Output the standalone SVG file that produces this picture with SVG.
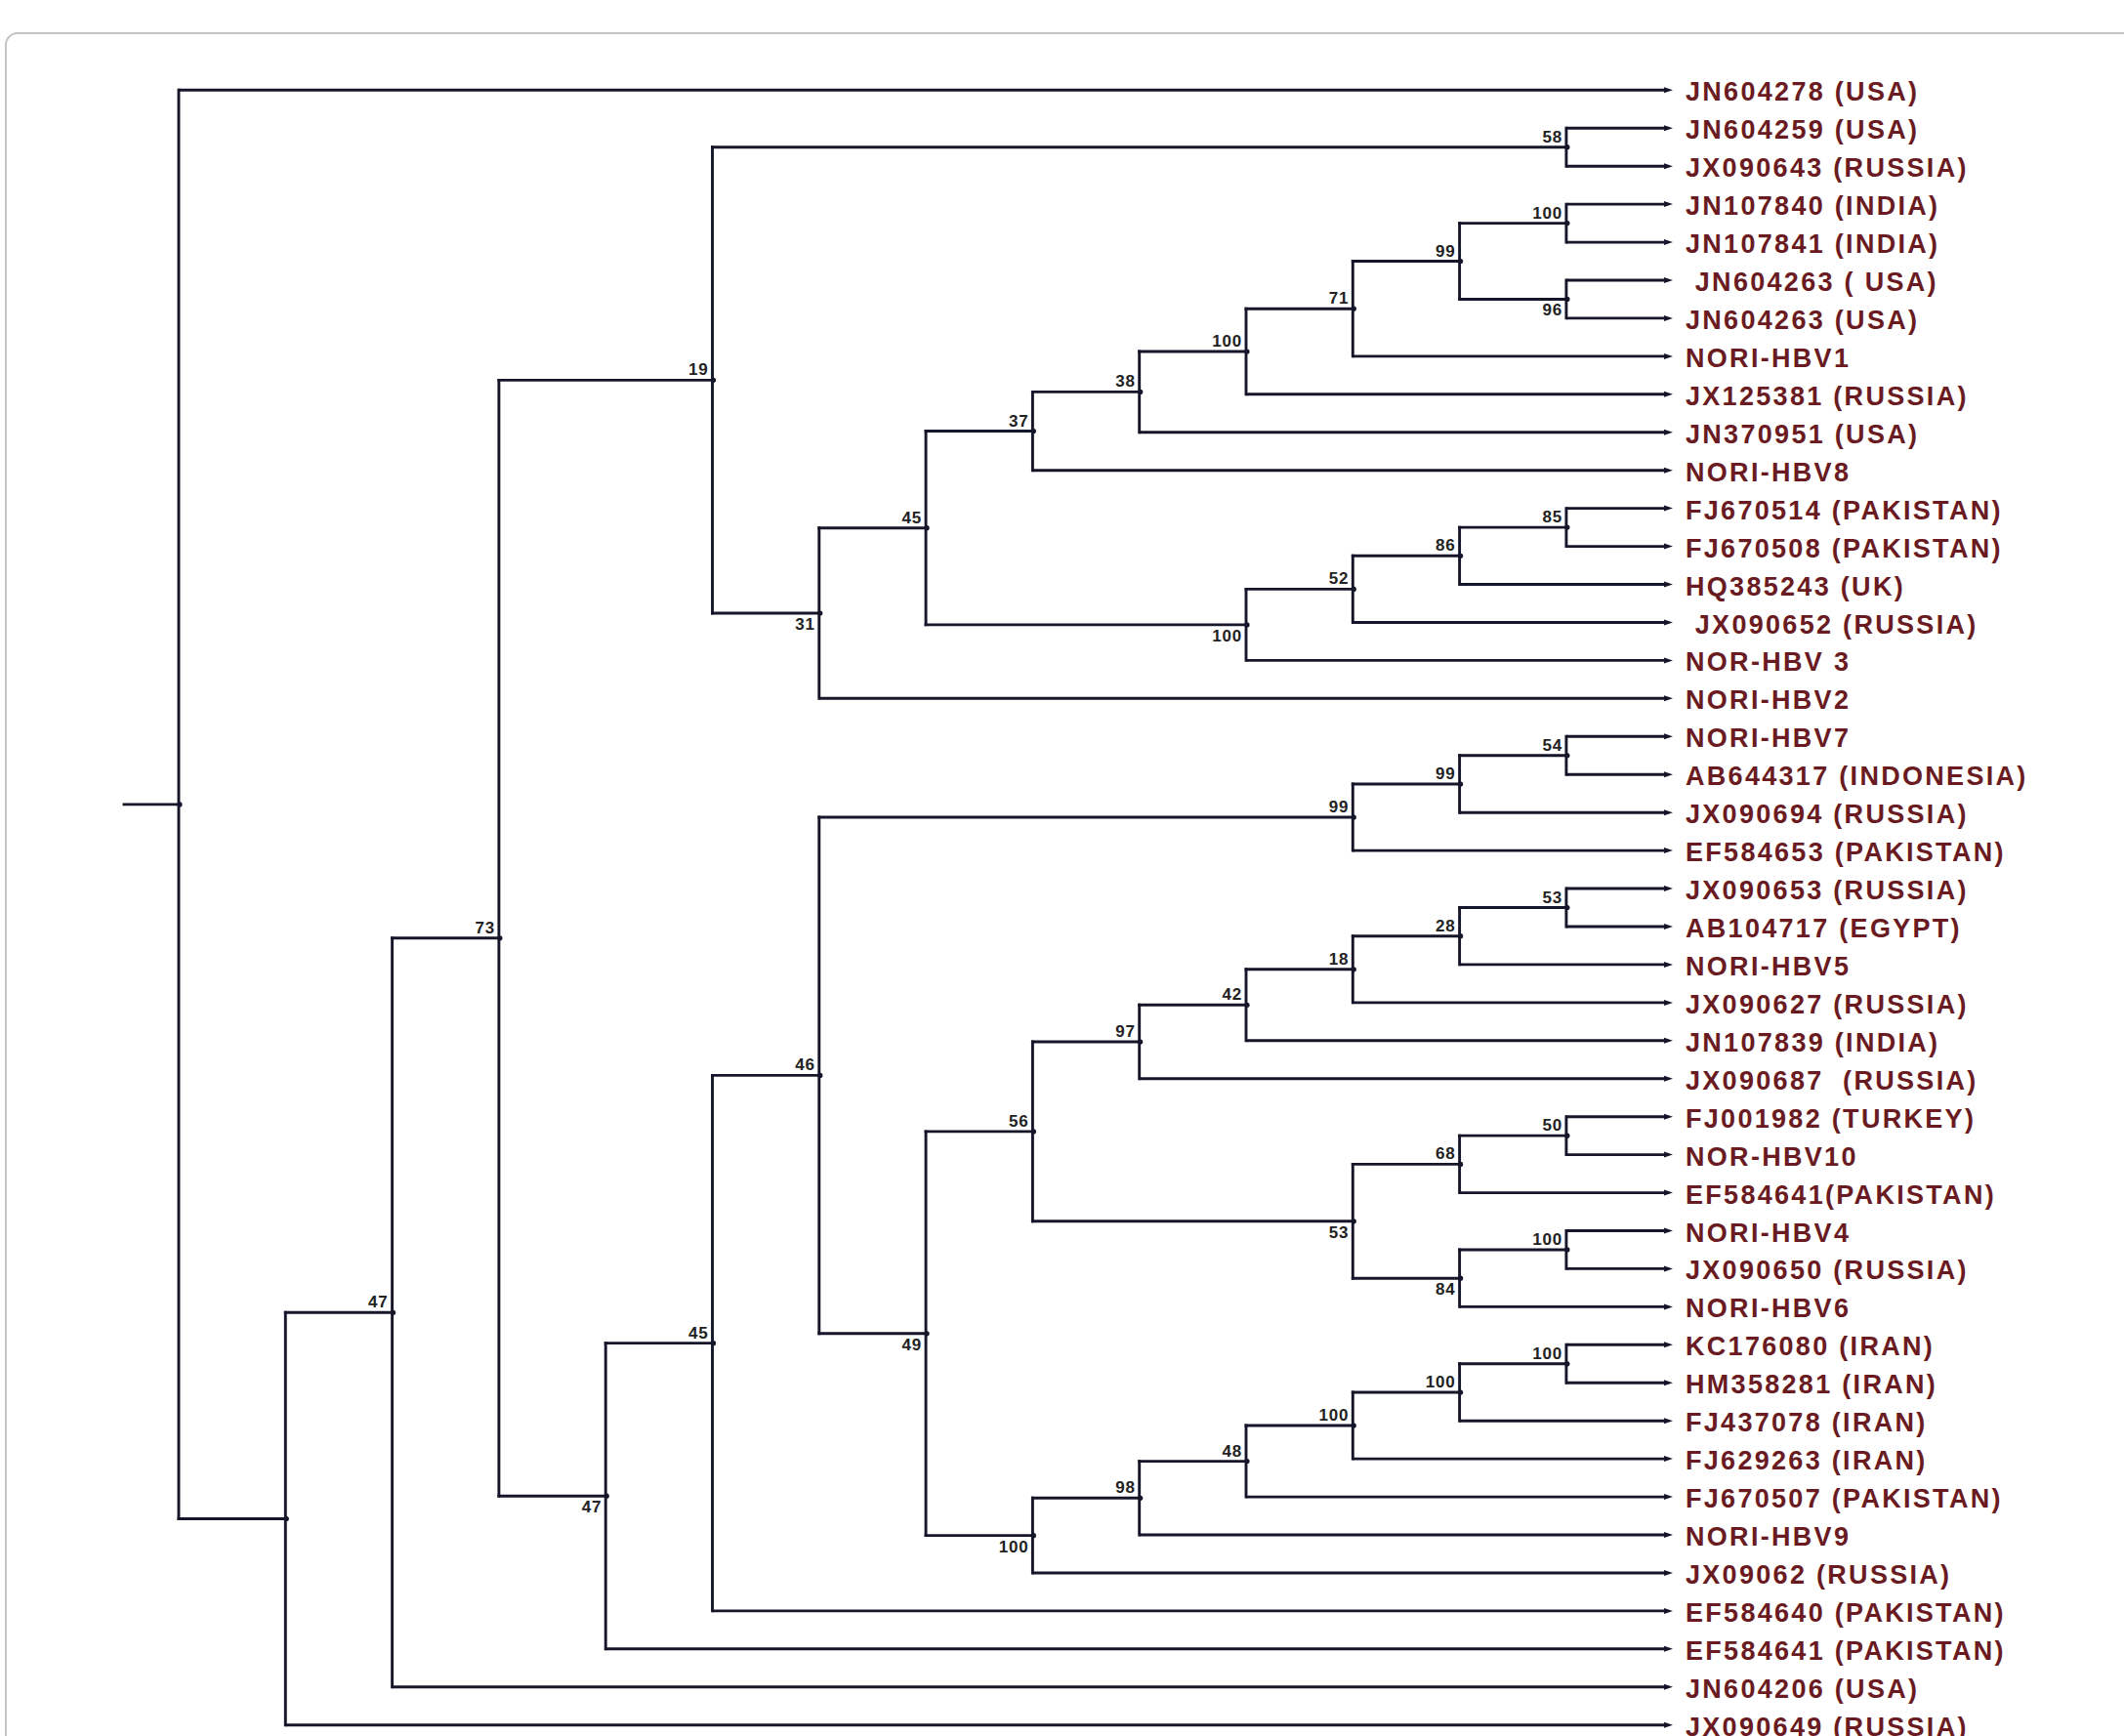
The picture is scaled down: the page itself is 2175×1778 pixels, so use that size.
<svg xmlns="http://www.w3.org/2000/svg" width="2175" height="1778" viewBox="0 0 2175 1778">
<style>
.br{stroke:#16162a;stroke-width:2.9;fill:none;stroke-linecap:square}
.lf{stroke:#16162a;stroke-width:2.9;fill:none}
.tx{font-family:"Liberation Sans",Arial,sans-serif;font-weight:bold;font-size:27px;letter-spacing:2.3px;fill:#6a1b22;white-space:pre}
.bs{font-family:"Liberation Sans",Arial,sans-serif;font-weight:bold;font-size:17px;letter-spacing:0.8px;fill:#222;text-anchor:end}
.nd{fill:#16162a}
</style>
<defs>
<marker id="arr" markerUnits="userSpaceOnUse" markerWidth="9" markerHeight="7" refX="1" refY="3.5" orient="auto"><path d="M0,0.5 L9,3.5 L0,6.5 z" fill="#16162a"/></marker>
</defs>
<rect x="6" y="34" width="2250" height="1800" rx="12" fill="#fff" stroke="#c4c4c4" stroke-width="2"/>
<g id="connectors">
<line class="br" x1="127" y1="823.9" x2="183" y2="823.9"/>
<g id="verticals">
<path class="br" d="M183 92.3V1555.5M292.3 1344.3V1766.7M401.6 960.8V1727.8M510.9 389.35V1532.2M620.2 1375.65V1688.8M729.5 150.7V628M838.8 540.7V715.3M948.1 441.55V639.9M1057.4 401.4V481.7M1166.7 360V442.8M1276 316.2V403.8M1385.3 267.5V364.9M1494.6 228.6V306.45M1603.9 209.1V248.1M1603.9 287V325.9M1603.9 131.2V170.2M1276 603.4V676.4M1385.3 569.3V637.5M1494.6 540.1V598.5M1603.9 520.6V559.6M729.5 1101.4V1649.9M838.8 837.05V1365.8M1385.3 803V871.1M1494.6 773.75V832.2M1603.9 754.3V793.2M948.1 1158.9V1572.65M1057.4 1067V1250.8M1166.7 1029.3V1104.7M1276 992.8V1065.8M1385.3 958.7V1026.9M1494.6 929.5V987.9M1603.9 910V949M1385.3 1192.4V1309.2M1494.6 1163.15V1221.6M1603.9 1143.7V1182.6M1494.6 1279.95V1338.4M1603.9 1260.5V1299.4M1057.4 1534.3V1611M1166.7 1496.6V1572M1276 1460.05V1533.1M1385.3 1426V1494.1M1494.6 1396.8V1455.2M1603.9 1377.3V1416.3"/>
</g>
<g id="inner-edges">
<path class="br" d="M183 1555.5H292.3M292.3 1344.3H401.6M401.6 960.8H510.9M510.9 389.35H729.5M510.9 1532.2H620.2M729.5 150.7H1603.9M729.5 628H838.8M838.8 540.7H948.1M948.1 441.55H1057.4M948.1 639.9H1276M1057.4 401.4H1166.7M1166.7 360H1276M1276 316.2H1385.3M1385.3 267.5H1494.6M1494.6 228.6H1603.9M1494.6 306.45H1603.9M1276 603.4H1385.3M1385.3 569.3H1494.6M1494.6 540.1H1603.9M620.2 1375.65H729.5M729.5 1101.4H838.8M838.8 837.05H1385.3M838.8 1365.8H948.1M1385.3 803H1494.6M1494.6 773.75H1603.9M948.1 1158.9H1057.4M948.1 1572.65H1057.4M1057.4 1067H1166.7M1057.4 1250.8H1385.3M1166.7 1029.3H1276M1276 992.8H1385.3M1385.3 958.7H1494.6M1494.6 929.5H1603.9M1385.3 1192.4H1494.6M1385.3 1309.2H1494.6M1494.6 1163.15H1603.9M1494.6 1279.95H1603.9M1057.4 1534.3H1166.7M1166.7 1496.6H1276M1276 1460.05H1385.3M1385.3 1426H1494.6M1494.6 1396.8H1603.9"/>
</g>
<g id="leaf-edges">
<line class="lf" x1="183" y1="92.3" x2="1705" y2="92.3" marker-end="url(#arr)"/>
<line class="lf" x1="1603.9" y1="131.2" x2="1705" y2="131.2" marker-end="url(#arr)"/>
<line class="lf" x1="1603.9" y1="170.2" x2="1705" y2="170.2" marker-end="url(#arr)"/>
<line class="lf" x1="1603.9" y1="209.1" x2="1705" y2="209.1" marker-end="url(#arr)"/>
<line class="lf" x1="1603.9" y1="248.1" x2="1705" y2="248.1" marker-end="url(#arr)"/>
<line class="lf" x1="1603.9" y1="287" x2="1705" y2="287" marker-end="url(#arr)"/>
<line class="lf" x1="1603.9" y1="325.9" x2="1705" y2="325.9" marker-end="url(#arr)"/>
<line class="lf" x1="1385.3" y1="364.9" x2="1705" y2="364.9" marker-end="url(#arr)"/>
<line class="lf" x1="1276" y1="403.8" x2="1705" y2="403.8" marker-end="url(#arr)"/>
<line class="lf" x1="1166.7" y1="442.8" x2="1705" y2="442.8" marker-end="url(#arr)"/>
<line class="lf" x1="1057.4" y1="481.7" x2="1705" y2="481.7" marker-end="url(#arr)"/>
<line class="lf" x1="1603.9" y1="520.6" x2="1705" y2="520.6" marker-end="url(#arr)"/>
<line class="lf" x1="1603.9" y1="559.6" x2="1705" y2="559.6" marker-end="url(#arr)"/>
<line class="lf" x1="1494.6" y1="598.5" x2="1705" y2="598.5" marker-end="url(#arr)"/>
<line class="lf" x1="1385.3" y1="637.5" x2="1705" y2="637.5" marker-end="url(#arr)"/>
<line class="lf" x1="1276" y1="676.4" x2="1705" y2="676.4" marker-end="url(#arr)"/>
<line class="lf" x1="838.8" y1="715.3" x2="1705" y2="715.3" marker-end="url(#arr)"/>
<line class="lf" x1="1603.9" y1="754.3" x2="1705" y2="754.3" marker-end="url(#arr)"/>
<line class="lf" x1="1603.9" y1="793.2" x2="1705" y2="793.2" marker-end="url(#arr)"/>
<line class="lf" x1="1494.6" y1="832.2" x2="1705" y2="832.2" marker-end="url(#arr)"/>
<line class="lf" x1="1385.3" y1="871.1" x2="1705" y2="871.1" marker-end="url(#arr)"/>
<line class="lf" x1="1603.9" y1="910" x2="1705" y2="910" marker-end="url(#arr)"/>
<line class="lf" x1="1603.9" y1="949" x2="1705" y2="949" marker-end="url(#arr)"/>
<line class="lf" x1="1494.6" y1="987.9" x2="1705" y2="987.9" marker-end="url(#arr)"/>
<line class="lf" x1="1385.3" y1="1026.9" x2="1705" y2="1026.9" marker-end="url(#arr)"/>
<line class="lf" x1="1276" y1="1065.8" x2="1705" y2="1065.8" marker-end="url(#arr)"/>
<line class="lf" x1="1166.7" y1="1104.7" x2="1705" y2="1104.7" marker-end="url(#arr)"/>
<line class="lf" x1="1603.9" y1="1143.7" x2="1705" y2="1143.7" marker-end="url(#arr)"/>
<line class="lf" x1="1603.9" y1="1182.6" x2="1705" y2="1182.6" marker-end="url(#arr)"/>
<line class="lf" x1="1494.6" y1="1221.6" x2="1705" y2="1221.6" marker-end="url(#arr)"/>
<line class="lf" x1="1603.9" y1="1260.5" x2="1705" y2="1260.5" marker-end="url(#arr)"/>
<line class="lf" x1="1603.9" y1="1299.4" x2="1705" y2="1299.4" marker-end="url(#arr)"/>
<line class="lf" x1="1494.6" y1="1338.4" x2="1705" y2="1338.4" marker-end="url(#arr)"/>
<line class="lf" x1="1603.9" y1="1377.3" x2="1705" y2="1377.3" marker-end="url(#arr)"/>
<line class="lf" x1="1603.9" y1="1416.3" x2="1705" y2="1416.3" marker-end="url(#arr)"/>
<line class="lf" x1="1494.6" y1="1455.2" x2="1705" y2="1455.2" marker-end="url(#arr)"/>
<line class="lf" x1="1385.3" y1="1494.1" x2="1705" y2="1494.1" marker-end="url(#arr)"/>
<line class="lf" x1="1276" y1="1533.1" x2="1705" y2="1533.1" marker-end="url(#arr)"/>
<line class="lf" x1="1166.7" y1="1572" x2="1705" y2="1572" marker-end="url(#arr)"/>
<line class="lf" x1="1057.4" y1="1611" x2="1705" y2="1611" marker-end="url(#arr)"/>
<line class="lf" x1="729.5" y1="1649.9" x2="1705" y2="1649.9" marker-end="url(#arr)"/>
<line class="lf" x1="620.2" y1="1688.8" x2="1705" y2="1688.8" marker-end="url(#arr)"/>
<line class="lf" x1="401.6" y1="1727.8" x2="1705" y2="1727.8" marker-end="url(#arr)"/>
<line class="lf" x1="292.3" y1="1766.7" x2="1705" y2="1766.7" marker-end="url(#arr)"/>
</g>
</g>
<g id="inner-nodes">
<g id="n-root"><circle class="nd" cx="184" cy="823.9" r="2.6"/></g>
<g id="n47a"><circle class="nd" cx="293.3" cy="1555.5" r="2.6"/></g>
<g id="n47b"><circle class="nd" cx="402.6" cy="1344.3" r="2.6"/><text class="bs" x="397.6" y="1339.3">47</text></g>
<g id="n73"><circle class="nd" cx="511.9" cy="960.8" r="2.6"/><text class="bs" x="506.9" y="955.8">73</text></g>
<g id="n47c"><circle class="nd" cx="621.2" cy="1532.2" r="2.6"/><text class="bs" x="616.2" y="1549.2">47</text></g>
<g id="n19"><circle class="nd" cx="730.5" cy="389.35" r="2.6"/><text class="bs" x="725.5" y="384.35">19</text></g>
<g id="n45l"><circle class="nd" cx="730.5" cy="1375.65" r="2.6"/><text class="bs" x="725.5" y="1370.65">45</text></g>
<g id="n31"><circle class="nd" cx="839.8" cy="628" r="2.6"/><text class="bs" x="834.8" y="645">31</text></g>
<g id="n46"><circle class="nd" cx="839.8" cy="1101.4" r="2.6"/><text class="bs" x="834.8" y="1096.4">46</text></g>
<g id="n45u"><circle class="nd" cx="949.1" cy="540.7" r="2.6"/><text class="bs" x="944.1" y="535.7">45</text></g>
<g id="n49"><circle class="nd" cx="949.1" cy="1365.8" r="2.6"/><text class="bs" x="944.1" y="1382.8">49</text></g>
<g id="n37"><circle class="nd" cx="1058.4" cy="441.55" r="2.6"/><text class="bs" x="1053.4" y="436.55">37</text></g>
<g id="n56"><circle class="nd" cx="1058.4" cy="1158.9" r="2.6"/><text class="bs" x="1053.4" y="1153.9">56</text></g>
<g id="n100d"><circle class="nd" cx="1058.4" cy="1572.65" r="2.6"/><text class="bs" x="1053.4" y="1589.65">100</text></g>
<g id="n38"><circle class="nd" cx="1167.7" cy="401.4" r="2.6"/><text class="bs" x="1162.7" y="396.4">38</text></g>
<g id="n97"><circle class="nd" cx="1167.7" cy="1067" r="2.6"/><text class="bs" x="1162.7" y="1062">97</text></g>
<g id="n98"><circle class="nd" cx="1167.7" cy="1534.3" r="2.6"/><text class="bs" x="1162.7" y="1529.3">98</text></g>
<g id="n100a"><circle class="nd" cx="1277" cy="360" r="2.6"/><text class="bs" x="1272" y="355">100</text></g>
<g id="n100b"><circle class="nd" cx="1277" cy="639.9" r="2.6"/><text class="bs" x="1272" y="656.9">100</text></g>
<g id="n42"><circle class="nd" cx="1277" cy="1029.3" r="2.6"/><text class="bs" x="1272" y="1024.3">42</text></g>
<g id="n48"><circle class="nd" cx="1277" cy="1496.6" r="2.6"/><text class="bs" x="1272" y="1491.6">48</text></g>
<g id="n71"><circle class="nd" cx="1386.3" cy="316.2" r="2.6"/><text class="bs" x="1381.3" y="311.2">71</text></g>
<g id="n52"><circle class="nd" cx="1386.3" cy="603.4" r="2.6"/><text class="bs" x="1381.3" y="598.4">52</text></g>
<g id="n99a"><circle class="nd" cx="1386.3" cy="837.05" r="2.6"/><text class="bs" x="1381.3" y="832.05">99</text></g>
<g id="n18"><circle class="nd" cx="1386.3" cy="992.8" r="2.6"/><text class="bs" x="1381.3" y="987.8">18</text></g>
<g id="n53a"><circle class="nd" cx="1386.3" cy="1250.8" r="2.6"/><text class="bs" x="1381.3" y="1267.8">53</text></g>
<g id="n100f"><circle class="nd" cx="1386.3" cy="1460.05" r="2.6"/><text class="bs" x="1381.3" y="1455.05">100</text></g>
<g id="n99"><circle class="nd" cx="1495.6" cy="267.5" r="2.6"/><text class="bs" x="1490.6" y="262.5">99</text></g>
<g id="n86"><circle class="nd" cx="1495.6" cy="569.3" r="2.6"/><text class="bs" x="1490.6" y="564.3">86</text></g>
<g id="n99b"><circle class="nd" cx="1495.6" cy="803" r="2.6"/><text class="bs" x="1490.6" y="798">99</text></g>
<g id="n28"><circle class="nd" cx="1495.6" cy="958.7" r="2.6"/><text class="bs" x="1490.6" y="953.7">28</text></g>
<g id="n68"><circle class="nd" cx="1495.6" cy="1192.4" r="2.6"/><text class="bs" x="1490.6" y="1187.4">68</text></g>
<g id="n84"><circle class="nd" cx="1495.6" cy="1309.2" r="2.6"/><text class="bs" x="1490.6" y="1326.2">84</text></g>
<g id="n100g"><circle class="nd" cx="1495.6" cy="1426" r="2.6"/><text class="bs" x="1490.6" y="1421">100</text></g>
<g id="n58"><circle class="nd" cx="1604.9" cy="150.7" r="2.6"/><text class="bs" x="1599.9" y="145.7">58</text></g>
<g id="n100c"><circle class="nd" cx="1604.9" cy="228.6" r="2.6"/><text class="bs" x="1599.9" y="223.6">100</text></g>
<g id="n96"><circle class="nd" cx="1604.9" cy="306.45" r="2.6"/><text class="bs" x="1599.9" y="323.45">96</text></g>
<g id="n85"><circle class="nd" cx="1604.9" cy="540.1" r="2.6"/><text class="bs" x="1599.9" y="535.1">85</text></g>
<g id="n54"><circle class="nd" cx="1604.9" cy="773.75" r="2.6"/><text class="bs" x="1599.9" y="768.75">54</text></g>
<g id="n53b"><circle class="nd" cx="1604.9" cy="929.5" r="2.6"/><text class="bs" x="1599.9" y="924.5">53</text></g>
<g id="n50"><circle class="nd" cx="1604.9" cy="1163.15" r="2.6"/><text class="bs" x="1599.9" y="1158.15">50</text></g>
<g id="n100e"><circle class="nd" cx="1604.9" cy="1279.95" r="2.6"/><text class="bs" x="1599.9" y="1274.95">100</text></g>
<g id="n100h"><circle class="nd" cx="1604.9" cy="1396.8" r="2.6"/><text class="bs" x="1599.9" y="1391.8">100</text></g>
</g>
<g id="leaves">
<g id="leaf01"><text class="tx" x="1726" y="103.3">JN604278 (USA)</text></g>
<g id="leaf02"><text class="tx" x="1726" y="142.2">JN604259 (USA)</text></g>
<g id="leaf03"><text class="tx" x="1726" y="181.2">JX090643 (RUSSIA)</text></g>
<g id="leaf04"><text class="tx" x="1726" y="220.1">JN107840 (INDIA)</text></g>
<g id="leaf05"><text class="tx" x="1726" y="259.1">JN107841 (INDIA)</text></g>
<g id="leaf06"><text class="tx" x="1726" y="298" xml:space="preserve"> JN604263 ( USA)</text></g>
<g id="leaf07"><text class="tx" x="1726" y="336.9">JN604263 (USA)</text></g>
<g id="leaf08"><text class="tx" x="1726" y="375.9">NORI-HBV1</text></g>
<g id="leaf09"><text class="tx" x="1726" y="414.8">JX125381 (RUSSIA)</text></g>
<g id="leaf10"><text class="tx" x="1726" y="453.8">JN370951 (USA)</text></g>
<g id="leaf11"><text class="tx" x="1726" y="492.7">NORI-HBV8</text></g>
<g id="leaf12"><text class="tx" x="1726" y="531.6">FJ670514 (PAKISTAN)</text></g>
<g id="leaf13"><text class="tx" x="1726" y="570.6">FJ670508 (PAKISTAN)</text></g>
<g id="leaf14"><text class="tx" x="1726" y="609.5">HQ385243 (UK)</text></g>
<g id="leaf15"><text class="tx" x="1726" y="648.5" xml:space="preserve"> JX090652 (RUSSIA)</text></g>
<g id="leaf16"><text class="tx" x="1726" y="687.4">NOR-HBV 3</text></g>
<g id="leaf17"><text class="tx" x="1726" y="726.3">NORI-HBV2</text></g>
<g id="leaf18"><text class="tx" x="1726" y="765.3">NORI-HBV7</text></g>
<g id="leaf19"><text class="tx" x="1726" y="804.2">AB644317 (INDONESIA)</text></g>
<g id="leaf20"><text class="tx" x="1726" y="843.2">JX090694 (RUSSIA)</text></g>
<g id="leaf21"><text class="tx" x="1726" y="882.1">EF584653 (PAKISTAN)</text></g>
<g id="leaf22"><text class="tx" x="1726" y="921">JX090653 (RUSSIA)</text></g>
<g id="leaf23"><text class="tx" x="1726" y="960">AB104717 (EGYPT)</text></g>
<g id="leaf24"><text class="tx" x="1726" y="998.9">NORI-HBV5</text></g>
<g id="leaf25"><text class="tx" x="1726" y="1037.9">JX090627 (RUSSIA)</text></g>
<g id="leaf26"><text class="tx" x="1726" y="1076.8">JN107839 (INDIA)</text></g>
<g id="leaf27"><text class="tx" x="1726" y="1115.7" xml:space="preserve">JX090687  (RUSSIA)</text></g>
<g id="leaf28"><text class="tx" x="1726" y="1154.7">FJ001982 (TURKEY)</text></g>
<g id="leaf29"><text class="tx" x="1726" y="1193.6">NOR-HBV10</text></g>
<g id="leaf30"><text class="tx" x="1726" y="1232.6">EF584641(PAKISTAN)</text></g>
<g id="leaf31"><text class="tx" x="1726" y="1271.5">NORI-HBV4</text></g>
<g id="leaf32"><text class="tx" x="1726" y="1310.4">JX090650 (RUSSIA)</text></g>
<g id="leaf33"><text class="tx" x="1726" y="1349.4">NORI-HBV6</text></g>
<g id="leaf34"><text class="tx" x="1726" y="1388.3">KC176080 (IRAN)</text></g>
<g id="leaf35"><text class="tx" x="1726" y="1427.3">HM358281 (IRAN)</text></g>
<g id="leaf36"><text class="tx" x="1726" y="1466.2">FJ437078 (IRAN)</text></g>
<g id="leaf37"><text class="tx" x="1726" y="1505.1">FJ629263 (IRAN)</text></g>
<g id="leaf38"><text class="tx" x="1726" y="1544.1">FJ670507 (PAKISTAN)</text></g>
<g id="leaf39"><text class="tx" x="1726" y="1583">NORI-HBV9</text></g>
<g id="leaf40"><text class="tx" x="1726" y="1622">JX09062 (RUSSIA)</text></g>
<g id="leaf41"><text class="tx" x="1726" y="1660.9">EF584640 (PAKISTAN)</text></g>
<g id="leaf42"><text class="tx" x="1726" y="1699.8">EF584641 (PAKISTAN)</text></g>
<g id="leaf43"><text class="tx" x="1726" y="1738.8">JN604206 (USA)</text></g>
<g id="leaf44"><text class="tx" x="1726" y="1777.7">JX090649 (RUSSIA)</text></g>
</g>
</svg>
